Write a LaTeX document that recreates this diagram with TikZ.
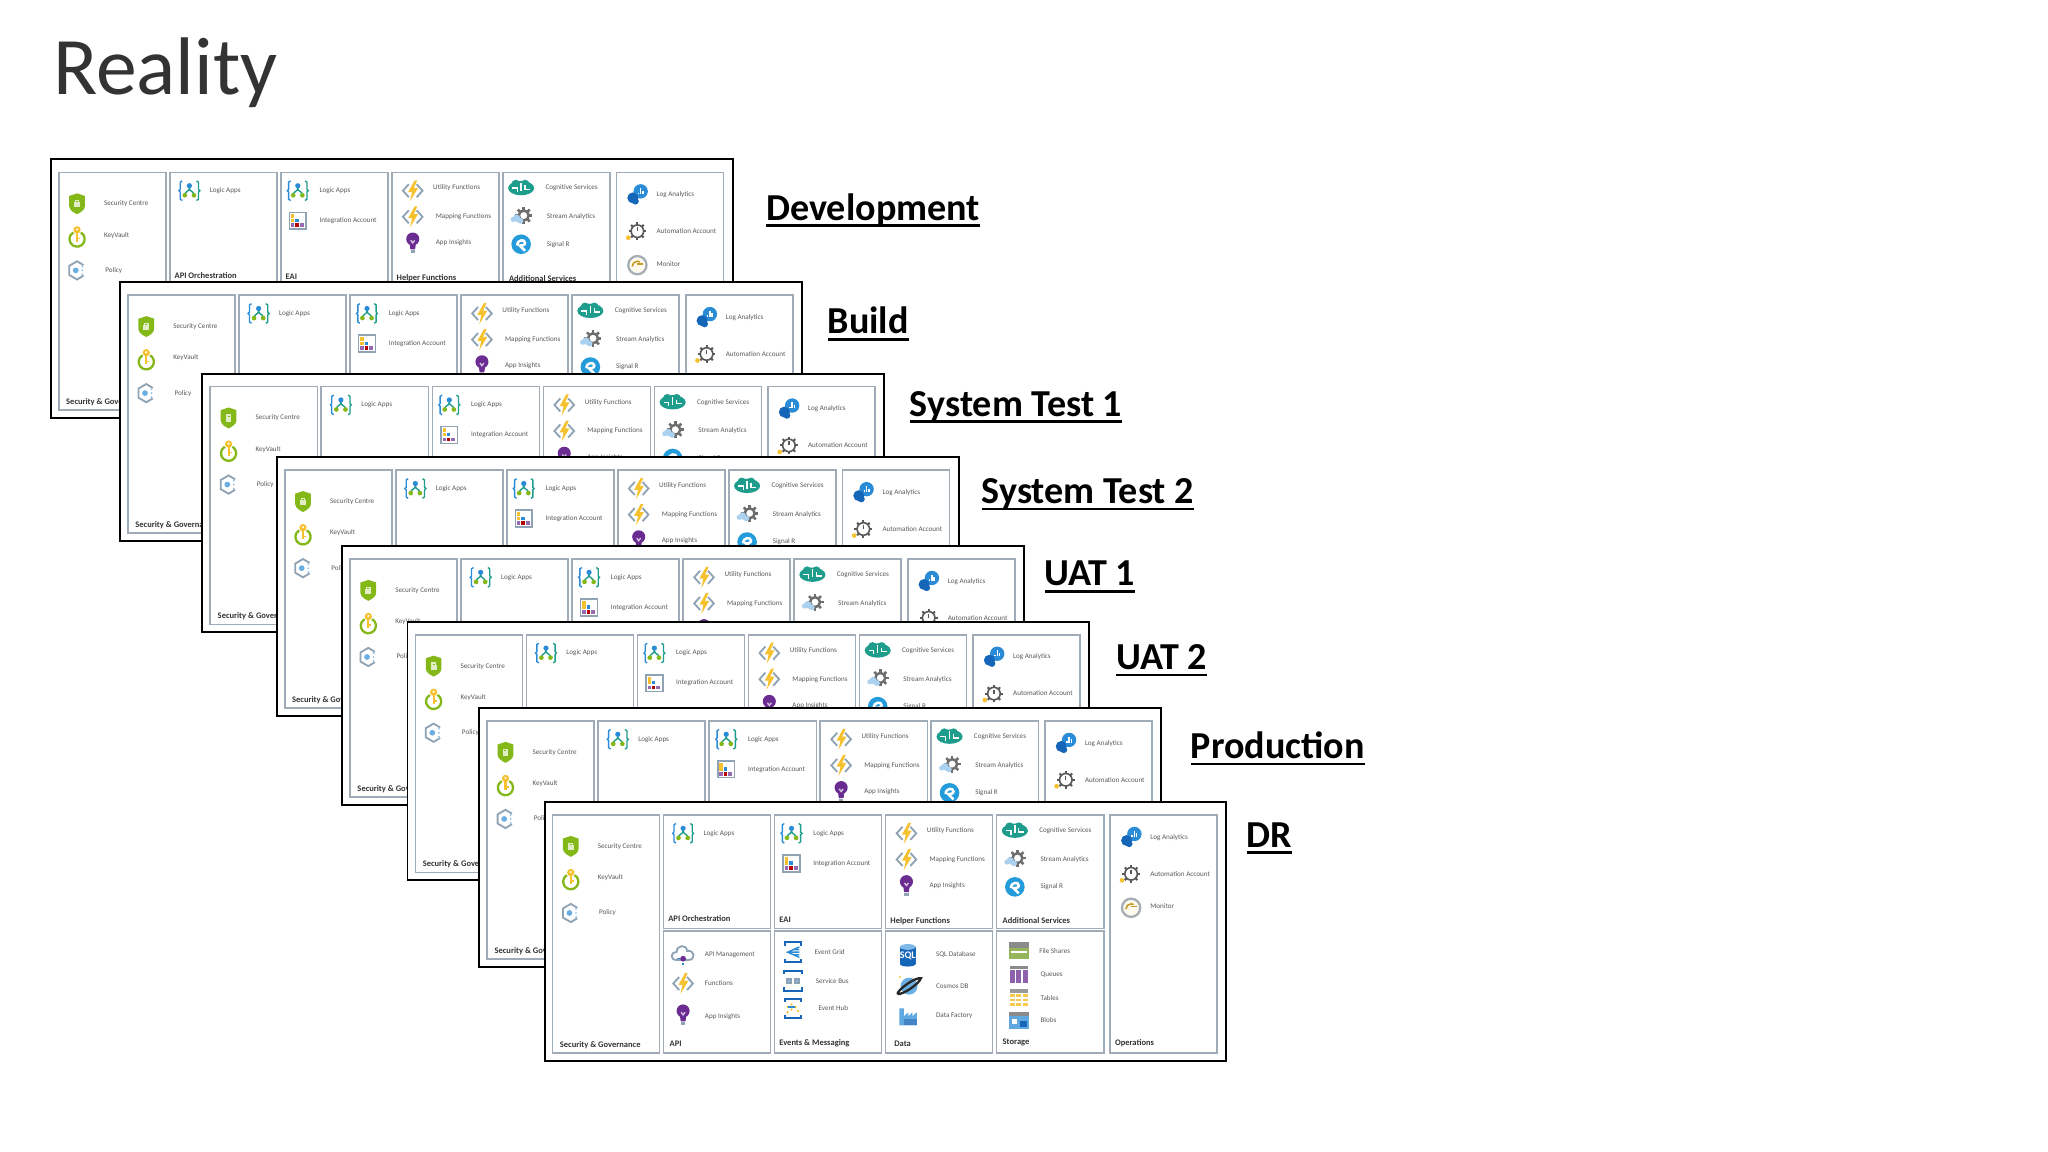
\documentclass[tikz,border=0pt]{standalone}
\usepackage{fontspec}
\setmainfont{Carlito}
\usepackage{tikz}
\definecolor{azgreen}{HTML}{84B818}
\definecolor{azblue}{HTML}{2A8BD6}
\definecolor{azdeep}{HTML}{1565B8}
\definecolor{azslate}{HTML}{8FA3B5}
\definecolor{azyellow}{HTML}{F6C12E}
\definecolor{azpurple}{HTML}{6A2C91}
\definecolor{azteal}{HTML}{1E9C8C}
\definecolor{azgrey}{HTML}{6E6E6E}
\definecolor{panelline}{HTML}{A0ABB8}
\newcommand{\tinyfont}{\fontsize{1.55}{1.8}\selectfont}
\newcommand{\titlefont}{\fontsize{1.85}{2.2}\selectfont\bfseries}
\newcommand{\ulabel}[1]{\setbox0\hbox{#1}\rlap{\rule[-1.5pt]{\wd0}{0.55pt}}\box0}
\tikzstyle{cardframe} = [rectangle, draw=black, fill=white, line width=0.42pt, minimum width=52.2mm, minimum height=19.8mm, inner sep=0pt, outer sep=0pt, anchor=north west]
\tikzstyle{panel} = [rectangle, draw=panelline, fill=white, line width=0.36pt, inner sep=0pt, outer sep=0pt, anchor=north west]
\tikzstyle{paneltitle} = [anchor=west, inner sep=0pt, text=black!80, font=\titlefont]
\tikzstyle{itemlabel} = [anchor=west, inner sep=0pt, text=black!65, font=\tinyfont]
\tikzstyle{envlabel} = [anchor=base west, inner sep=0pt, text=black, font=\fontsize{8.3}{10}\selectfont\bfseries]
\tikzstyle{thinline} = [line width=0.3pt]
\tikzset{
  shieldicon/.pic={
    \fill[azgreen] (0,-8) -- (6,-6) -- (6,2) .. controls (6,5) and (2,7) .. (0,8) .. controls (-2,7) and (-6,5) .. (-6,2) -- (-6,-6) -- cycle;
    \fill[white!75!azgreen] (-2.2,-1) rectangle (2.2,2.8);
    \draw[white!75!azgreen, thinline] (-1.3,-1) -- (-1.3,-2.4) -- (1.3,-2.4) -- (1.3,-1);
  },
  keyicon/.pic={
    \draw[azgreen, line width=0.5pt] (2.9,-3) arc (300:600:5.8);
    \fill[azyellow] (0,-5) circle (2.8);
    \fill[white] (0,-5.4) circle (0.9);
    \fill[azyellow] (-0.8,-3) rectangle (0.8,4);
    \fill[azyellow] (0.8,1) rectangle (2.4,2.2);
  },
  policyicon/.pic={
    \draw[azslate, line width=0.4pt] (5,-4) -- (0,-7) -- (-6,-3.5) -- (-6,3.5) -- (0,7) -- (5,4);
    \fill[azblue!70] (-1,0) circle (2.2);
    \foreach \dy in {-3,0,3} \fill[azblue!60] (4,\dy) circle (0.7);
  },
  logicicon/.pic={
    \draw[azblue, thinline] (-5.5,-7.5) -- (-7,-6.5) -- (-7,-1) -- (-8,0) -- (-7,1) -- (-7,6.5) -- (-5.5,7.5);
    \draw[azteal, thinline] (5.5,-7.5) -- (7,-6.5) -- (7,-1) -- (8,0) -- (7,1) -- (7,6.5) -- (5.5,7.5);
    \draw[azteal, thinline] (-3.5,3.5) .. controls (-3.5,0) and (0,1) .. (0,-2) .. controls (0,1) and (3.5,0) .. (3.5,3.5);
    \fill[azblue] (0,-3.8) circle (2);
    \fill[azgreen] (-3.5,3.5) circle (1.8);
    \fill[azgreen] (3.5,3.5) circle (1.8);
  },
  integrationicon/.pic={
    \fill[azslate] (-7,-7) rectangle (7,7);
    \fill[white] (-5.8,-5.8) rectangle (5.8,5.8);
    \fill[azyellow] (-5.2,-5) rectangle (-2.6,-2);
    \fill[azyellow] (-5.2,-1.5) rectangle (-2.6,1);
    \fill[azblue] (-1.8,-1.5) rectangle (0.8,1);
    \fill[azpurple!70] (-5.2,2) rectangle (-2.6,4.8);
    \fill[red!70!black] (-1.8,2) rectangle (0.8,4.8);
    \fill[azpurple!70] (1.6,2) rectangle (4.6,4.8);
  },
  functionicon/.pic={
    \draw[azslate, line width=0.4pt] (-3,-5) -- (-7.5,0) -- (-3,5) (3,-5) -- (7.5,0) -- (3,5);
    \fill[azyellow] (1.5,-8) -- (-3.5,1) -- (-0.5,1) -- (-2,8) -- (4,-2) -- (0.8,-2) -- (3.5,-8) -- cycle;
  },
  insighticon/.pic={
    \fill[azpurple] (0,-3) circle (5);
    \fill[azpurple] (-2.5,0) -- (2.5,0) -- (1.8,5) -- (-1.8,5) -- cycle;
    \draw[white!70!azpurple, thinline] (-1.5,-2) -- (0,0) -- (1.5,-2);
    \fill[azslate] (-1.6,5.6) rectangle (1.6,8);
  },
  brainicon/.pic={
    \fill[azteal] (0,0) ellipse (10 and 5.5);
    \fill[azteal] (-4,-3) circle (3.4);
    \fill[azteal] (3,-3) circle (3.4);
    \draw[white, thinline] (-7,0) -- (-3,0) -- (-3,3) (0,-4) -- (0,2) (3,-2) -- (3,1) -- (7,1);
  },
  gearicon/.pic={
    \foreach \a in {0,45,...,315} \draw[azgrey, line width=0.55pt] ($(2,-1)+(\a:3.5)$) -- ($(2,-1)+(\a:6.5)$);
    \draw[azgrey, line width=0.55pt, fill=white] (2,-1) circle (3.8);
    \fill[azblue!40] (-6,2) circle (2);
    \fill[azblue!40] (-3.5,1) circle (2.8);
    \fill[azblue!40] (-0.5,3) circle (2.2);
  },
  signalicon/.pic={
    \fill[azblue!85!cyan] (0,0) circle (7.5);
    \draw[white, line width=0.55pt] (-3,1) .. controls (-3,-4) and (3,-4) .. (3,-1) .. controls (3,1) and (0,1) .. (-1,1) -- (3,5);
  },
  logicon/.pic={
    \fill[azblue] (2.5,-2.5) circle (5.5);
    \fill[azdeep] (-3.5,2.5) circle (4.2);
    \fill[azdeep] (-1.5,5) circle (2.6);
    \draw[white, thinline] (0.8,-1.5) -- (0.8,-0.5) (2.5,-5) -- (2.5,-0.5) (4.2,-3) -- (4.2,-0.5);
  },
  autoicon/.pic={
    \foreach \a in {0,45,...,315} \draw[black!65, line width=0.45pt] (\a:4.5) -- (\a:6.8);
    \draw[black!65, line width=0.35pt, fill=white] (0,0) circle (4.8);
    \draw[black!65, thinline] (0,0) -- (0,-3);
    \fill[azyellow] (-7,5) circle (1.8);
  },
  monitoricon/.pic={
    \draw[azslate!55!azgrey!70, line width=0.5pt, fill=azyellow!8] (0,0) circle (7);
    \draw[azyellow!80!black, line width=0.35pt] (-4,1) arc (180:300:4);
    \draw[azyellow!80!black, line width=0.4pt] (0,-1) -- (4.5,-1);
  },
  apimicon/.pic={
    \draw[azslate, line width=0.4pt, fill=white] (-5,4) .. controls (-10,4) and (-10,-2) .. (-5,-2) .. controls (-5,-8) and (3,-8) .. (3,-3) .. controls (9,-4) and (10,4) .. (4,4) -- cycle;
    \fill[azpurple] (0,3) circle (2.2);
    \draw[azblue, thinline] (-5,3) -- (-2,3) (0,6) -- (0,7.5);
  },
  gridicon/.pic={
    \draw[azdeep, line width=0.45pt] (-6,-5) -- (-6,-7.5) -- (6,-7.5) -- (6,-5) (-6,5) -- (-6,7.5) -- (6,7.5) -- (6,5);
    \draw[azblue, thinline] (5,-4) -- (-4,0) -- (5,4) (5,0) -- (-4,0) (1,-2) -- (5,-2) (1,2) -- (5,2);
  },
  busicon/.pic={
    \draw[azdeep, line width=0.45pt] (-7,-5) -- (-7,-7.5) -- (7,-7.5) -- (7,-5) (-7,5) -- (-7,7.5) -- (7,7.5) -- (7,5);
    \fill[azslate] (-5.5,-2) rectangle (-1,2);
    \fill[azslate] (1,-2) rectangle (5.5,2);
    \fill[azblue!60] (-3.8,-1) rectangle (-2.2,1);
    \fill[azblue!60] (2.2,-1) rectangle (3.8,1);
  },
  hubicon/.pic={
    \draw[azdeep, line width=0.45pt] (-6,-5) -- (-6,-7.5) -- (6,-7.5) -- (6,-5) (-6,5) -- (-6,7.5) -- (6,7.5) -- (6,5);
    \foreach \hx/\hy in {-4/-1,-1/-3,-1/1,2/-1,4/2,-4/3} \fill[azyellow] (\hx,\hy) circle (1);
    \draw[azblue, thinline] (-4,-1) -- (2,-1);
  },
  sqlicon/.pic={
    \fill[azdeep] (-6,-6) rectangle (6,7);
    \fill[azdeep] (0,7) ellipse (6 and 2);
    \fill[azblue!60] (0,-6) ellipse (6 and 2.2);
    \node[inner sep=0pt, text=white, font=\fontsize{2.2}{2.4}\selectfont\bfseries] (sqltext) at (0,1) {SQL};
  },
  cosmosicon/.pic={
    \fill[azblue!70] (0,0) circle (6.5);
    \draw[black!85, line width=0.5pt] (-9,6) .. controls (-5,7) and (8,-2) .. (9,-6) .. controls (5,-7) and (-8,2) .. (-9,6);
    \fill[azyellow] (-7,-7) circle (0.8);
  },
  factoryicon/.pic={
    \fill[azblue!75] (-6.5,7) -- (-6.5,-6) -- (-3,-6) -- (-3,0) -- (0.5,-3) -- (0.5,0) -- (3.5,-3) -- (3.5,0) -- (7,-3) -- (7,7) -- cycle;
    \fill[azdeep!80] (-3,2) rectangle (7,7);
  },
  fileicon/.pic={
    \fill[azgrey!80] (-7.5,-6.5) rectangle (7.5,-2.5);
    \fill[azgreen!80!black!70] (-7.5,-2) rectangle (7.5,6.5);
    \draw[white, thinline] (-6,1) -- (6,1);
  },
  queueicon/.pic={
    \fill[azgrey!80] (-7,-6.5) rectangle (7,-4);
    \fill[azpurple!75] (-7,-3.5) rectangle (7,6.5);
    \draw[white, thinline] (-2.5,-3.5) -- (-2.5,6.5) (2.5,-3.5) -- (2.5,6.5);
  },
  tableicon/.pic={
    \fill[azgrey!70] (-7,-6.5) rectangle (7,-3.5);
    \fill[azyellow!85] (-7,-3) rectangle (7,6.5);
    \draw[white, thinline] (-7,0) -- (7,0) (-7,3) -- (7,3) (-2.5,-3) -- (-2.5,6.5) (2.5,-3) -- (2.5,6.5);
  },
  blobicon/.pic={
    \fill[azgrey!80] (-7.5,-6.5) rectangle (7.5,-3.5);
    \fill[azblue!75] (-7.5,-3) rectangle (7.5,6.5);
    \fill[white] (-5,-1) rectangle (-1,3);
    \fill[azdeep] (1,1) rectangle (6,5);
  },
  stackcard/.pic={
    \node[cardframe] (frame) at (0,0) {};
    \foreach \pname/\px/\py/\pw/\ph/\tx/\ty/\ptitle in {
      sec/6/10/82/182/11/186/Security \& Governance,
      orch/91/10/82/87/94/89/API Orchestration,
      eai/176/10/82/87/179/90/EAI,
      helper/261/10/82/87/264/91/Helper Functions,
      extra/346/10/82/87/350/91/Additional Services,
      ops/433/10/82/182/436/185/Operations,
      api/91/99/82/93/95/185/API,
      events/176/99/82/93/179/185/Events \& Messaging,
      data/261/99/82/93/267/185/Data,
      storage/346/99/82/93/350/184/Storage} {
      \node[panel, minimum width=\pw*0.1mm, minimum height=\ph*0.1mm] (\pname) at (\px,\py) {};
      \node[paneltitle] (\pname title) at (\tx,\ty) {\ptitle};
    }
    \foreach \icon/\ix/\iy/\lx/\ly/\itemtext [count=\n] in {
      shieldicon/20/34/40/34/Security Centre,
      keyicon/20/59/40/58/KeyVault,
      policyicon/20/85/41/85/Policy,
      logicicon/106/24/121/24/Logic Apps,
      logicicon/189/24/205/24/Logic Apps,
      integrationicon/189/47/205/47/Integration Account,
      functionicon/277/24/292/22/Utility Functions,
      functionicon/277/44/294/44/Mapping Functions,
      insighticon/277/64/294/64/App Insights,
      brainicon/360/22/378/22/Cognitive Services,
      gearicon/360/44/379/44/Stream Analytics,
      signalicon/360/65/379/65/Signal R,
      logicon/449/27/463/27/Log Analytics,
      autoicon/449/55/463/55/Automation Account,
      monitoricon/449/81/463/80/Monitor,
      apimicon/106/117/122/117/API Management,
      functionicon/106/139/122/139/Functions,
      insighticon/106/163/122/164/App Insights,
      gridicon/190/115/206/115/Event Grid,
      busicon/190/137/207/137/Service Bus,
      hubicon/190/158/209/158/Event Hub,
      sqlicon/278/117/299/117/SQL Database,
      cosmosicon/279/141/299/141/Cosmos DB,
      factoryicon/278/164/299/164/Data Factory,
      fileicon/363/114/378/114/File Shares,
      queueicon/363/132/379/132/Queues,
      tableicon/363/150/379/150/Tables,
      blobicon/363/167/379/167/Blobs} {
      \pic at (\ix,\iy) {\icon};
      \node[itemlabel] (item\n) at (\lx,\ly) {\itemtext};
    }
  }
}
\usetikzlibrary{calc}
\begin{document}
\begin{tikzpicture}[x=0.1mm, y=-0.1mm]
  \useasboundingbox (0,0) rectangle (1568,882);
  \node[anchor=base west, inner sep=0pt, text=black!80, font=\fontsize{17.8}{20}\selectfont] (title) at (40,72) {Reality};
  \foreach \cname/\cx/\cy/\lx/\ly/\envname in {
    dev/39/122/586/168.5/Development,
    build/92/216/633/255.5/Build,
    systestone/155/286/696/318.5/System Test 1,
    systesttwo/212/350/751/385.5/System Test 2,
    uatone/262/418/799/448.5/UAT 1,
    uattwo/312/476/854/512.5/UAT 2,
    prod/367/542/911/580.5/Production,
    dr/417/614/954/648.5/DR} {
    \pic (\cname) at (\cx,\cy) {stackcard};
    \node[envlabel] (\cname env) at (\lx,\ly) {\ulabel{\envname}};
  }
\end{tikzpicture}
\end{document}
